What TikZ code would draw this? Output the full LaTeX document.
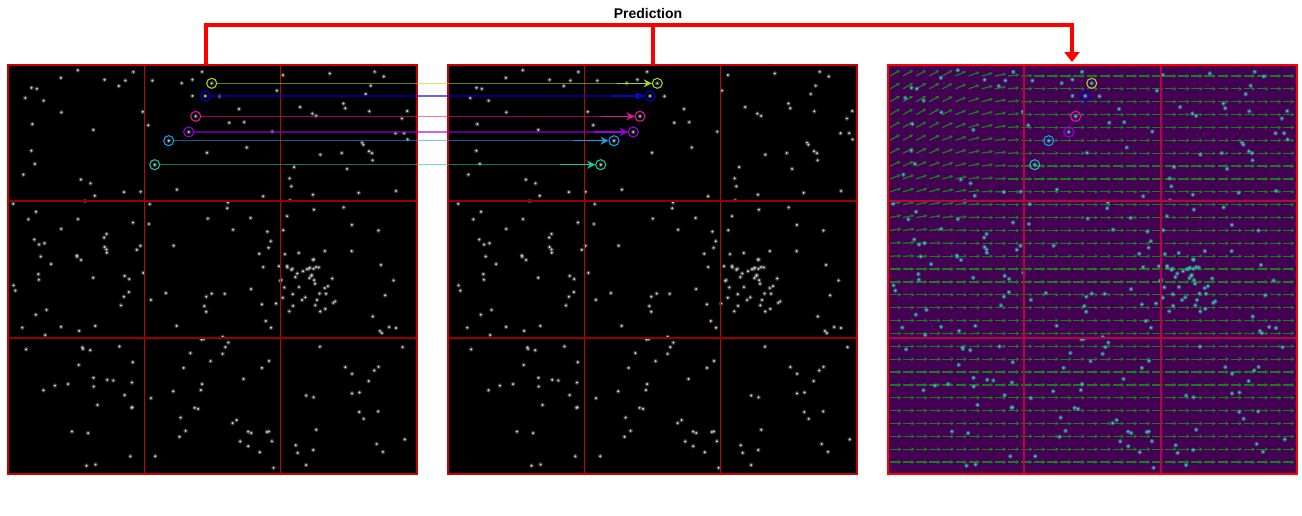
\documentclass[tikz,border=0pt]{standalone}
\usepackage{fontspec}
\setmainfont{Liberation Sans}
\usetikzlibrary{arrows.meta}
\definecolor{bordred}{RGB}{200,0,0}
\definecolor{gridred}{RGB}{150,0,0}
\definecolor{gridvred}{RGB}{200,0,0}
\definecolor{vir}{RGB}{68,1,84}
\definecolor{fieldgreen}{RGB}{25,125,30}
\definecolor{rgrid}{RGB}{175,10,60}
\definecolor{fdot}{RGB}{80,205,185}
\definecolor{fhalo}{RGB}{45,150,150}
\definecolor{dotcore}{RGB}{215,215,215}
\definecolor{cYG}{RGB}{160,215,30}
\definecolor{cBL}{RGB}{0,0,215}
\definecolor{cPK}{RGB}{230,20,160}
\definecolor{cPU}{RGB}{150,0,225}
\definecolor{cCY}{RGB}{20,160,230}
\definecolor{cTE}{RGB}{20,200,160}
\tikzset{
  panelbox/.style={draw=bordred, line width=1.4pt},
  hgrid/.style={draw=gridred, line width=1.8pt},
  vgrid/.style={draw=gridvred, line width=1pt},
  fgrid/.style={draw=rgrid, line width=1.8pt},
  halo/.style={fill=gray, opacity=.45},
  core/.style={fill=dotcore},
  fhaloS/.style={fill=fhalo, opacity=.6},
  fcore/.style={fill=fdot},
  mark circ/.style={circle, draw=#1, line width=1.1pt, minimum size=10pt, inner sep=0pt},
  track/.style={draw=#1, line width=1.3pt, opacity=.6},
  tracktip/.style={draw=#1, line width=1.3pt, -{Stealth[length=8pt,width=8pt]}},
  bracket/.style={draw=red, line width=4pt},
  vec/.style={color=fieldgreen, line width=1.25pt, -{Stealth[length=3.6pt,width=4pt]}}
}
\newcommand\mydots[4]{% #1 panel left x, #2 shift, #3 halo style, #4 core style
  \pgfmathsetseed{4242}
  \foreach \i in {1,...,230}{
    \pgfmathsetmacro\dx{#1+5+395*rnd+#2}
    \pgfmathsetmacro\dy{70+400*rnd}
    \fill[#3] (\dx,\dy) circle (2.3);
    \fill[#4] (\dx,\dy) circle (1.1);
  }
  \pgfmathsetseed{777}
  \foreach \i in {1,...,45}{
    \pgfmathsetmacro\dx{#1+290+45*(rnd+rnd-1)+#2}
    \pgfmathsetmacro\dy{280+55*(rnd+rnd-1)}
    \fill[#3] (\dx,\dy) circle (2.3);
    \fill[#4] (\dx,\dy) circle (1.1);
  }
}
\begin{document}
\begin{tikzpicture}[x=1pt,y=-1pt]
\useasboundingbox (0,0) rectangle (1302,515);
\fill[white] (0,0) rectangle (1302,515);

% ---------- left panel ----------
\fill[black] (8,65) rectangle (417,474);
\mydots{8}{0}{halo}{core}
\draw[vgrid] (144.3,65) -- (144.3,474);
\draw[vgrid] (280.7,65) -- (280.7,474);
\draw[hgrid] (8,201.3) -- (417,201.3);
\draw[hgrid] (8,337.7) -- (417,337.7);
\node[panelbox, minimum width=409pt, minimum height=409pt, inner sep=0pt] (L) at (212.5,269.5) {};

% ---------- middle panel ----------
\fill[black] (448,65) rectangle (857,474);
\mydots{448}{5}{halo}{core}
\draw[vgrid] (584.3,65) -- (584.3,474);
\draw[vgrid] (720.7,65) -- (720.7,474);
\draw[hgrid] (448,201.3) -- (857,201.3);
\draw[hgrid] (448,337.7) -- (857,337.7);
\node[panelbox, minimum width=409pt, minimum height=409pt, inner sep=0pt] (M) at (652.5,269.5) {};

% ---------- right panel ----------
\fill[vir] (888,65) rectangle (1297,474);
\foreach \r in {0,...,30}{
  \foreach \c in {0,...,30}{
    \pgfmathsetmacro\rx{13.1*\c}
    \pgfmathsetmacro\ry{12.87*\r}
    \pgfmathsetmacro\f{1.6-1.3*sqrt((\rx/110)^2+(\ry/150)^2)}
    \pgfmathsetmacro\ang{30*min(1,max(0,\f))}
    \draw[vec] (890+\rx,76+\ry) -- ++(-\ang:11.5);
  }
}
\mydots{888}{0}{fhaloS}{fcore}
\draw[fgrid] (1024.3,65) -- (1024.3,474);
\draw[fgrid] (1160.7,65) -- (1160.7,474);
\draw[fgrid] (888,201.3) -- (1297,201.3);
\draw[fgrid] (888,337.7) -- (1297,337.7);
\node[panelbox, draw=red, minimum width=409pt, minimum height=409pt, inner sep=0pt] (R) at (1092.5,269.5) {};

% ---------- tracked points ----------
\foreach \n/\col/\xa/\xb/\y in {1/cYG/211.7/657.3/83.3, 2/cBL/205.3/650/96, 3/cPK/195.7/640/116.3, 4/cPU/188.7/633.3/132, 5/cCY/168.7/614/140.7, 6/cTE/154.7/600.7/164.7}{
  \fill[halo] (\xa,\y) circle (2.3); \fill[core] (\xa,\y) circle (1.1);
  \fill[halo] (\xb,\y) circle (2.3); \fill[core] (\xb,\y) circle (1.1);
  \pgfmathsetmacro\xc{\xa+880}
  \fill[fhaloS] (\xc,\y) circle (2.3); \fill[fcore] (\xc,\y) circle (1.2);
  \node[mark circ=\col] (a\n) at (\xa,\y) {};
  \node[mark circ=\col] (b\n) at (\xb,\y) {};
  \node[mark circ=\col] (c\n) at (\xc,\y) {};
  \draw[track=\col] (a\n) -- (b\n);
  \draw[tracktip=\col, shorten <=400pt] (a\n) -- (b\n);
}

% ---------- prediction bracket ----------
\coordinate (pL) at (206,65);
\coordinate (pM) at (653,65);
\coordinate (pR) at (1072,62);
\coordinate (top) at (653,25);
\draw[bracket] (pL) |- (top) -- (pM);
\draw[bracket, -{Triangle[length=10pt,width=15pt]}] (top) -| (pR);
\node[font=\bfseries\fontsize{14}{16}\selectfont] (pred) at (648,13) {Prediction};
\end{tikzpicture}
\end{document}
